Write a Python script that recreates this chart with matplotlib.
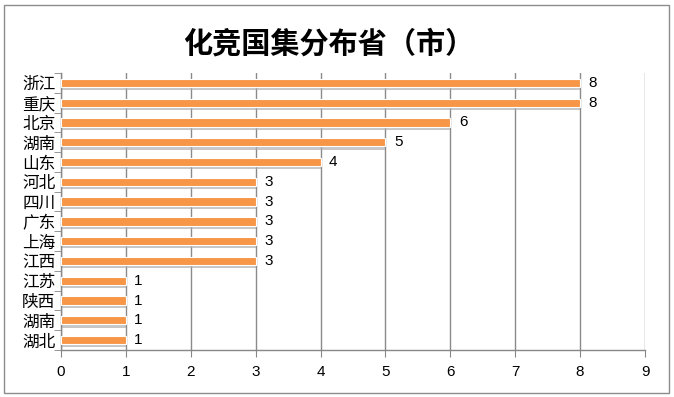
import matplotlib.pyplot as plt
from matplotlib.patches import Rectangle

plt.rcParams['font.family'] = ['Noto Sans CJK SC', 'DejaVu Sans']

# data, top to bottom
provinces = ['浙江', '重庆', '北京', '湖南', '山东', '河北', '四川', '广东',
             '上海', '江西', '江苏', '陕西', '湖南', '湖北']
counts = [8, 8, 6, 5, 4, 3, 3, 3, 3, 3, 1, 1, 1, 1]
title = '化竞国集分布省（市）'

W, H = 674, 397
fig = plt.figure(figsize=(W / 100, H / 100), dpi=100)
fig.patch.set_facecolor('white')

# outer frame of the chart
fig.patches.append(Rectangle((4 / W, 4 / H), 665 / W, 388 / H, transform=fig.transFigure,
                             fill=False, edgecolor='#8c8c8c', linewidth=1.0))

left, right, top, bottom = 61, 645, 73, 350
ax = fig.add_axes([left / W, 1 - bottom / H, (right - left) / W, (bottom - top) / H])

n = len(provinces)
ypos = list(range(n))[::-1]

# shadows, then bars
ax.barh([y - 0.16 for y in ypos], counts, height=0.42, color='#b0b0b0', alpha=0.7, zorder=2)
ax.barh(ypos, counts, height=0.42, color='#F79646', edgecolor='white', linewidth=0.8, zorder=3)

for y, v in zip(ypos, counts):
    ax.text(v + 0.13, y, str(v), va='center', ha='left', fontsize=11,
            family=['Liberation Sans', 'DejaVu Sans'], zorder=4)

ax.set_xlim(0, 9)
ax.set_ylim(-0.5, n - 0.5)
ax.set_xticks(range(10))
ax.set_xticklabels([str(i) for i in range(10)], fontsize=11, family=['Liberation Sans', 'DejaVu Sans'])
ax.set_yticks(ypos)
ax.set_yticklabels(provinces, fontsize=12)
ax.tick_params(axis='y', length=0, pad=4)
ax.tick_params(axis='x', length=5, color='#878787', pad=6, direction='out')

# minor ticks between categories on y
ax.set_yticks([i + 0.5 for i in range(-1, n)], minor=True)
ax.tick_params(axis='y', which='minor', length=5, color='#878787', direction='out')

ax.grid(axis='x', color='#8a8a8a', linewidth=1.0, zorder=0)
ax.set_axisbelow(True)
for s in ['top', 'right']:
    ax.spines[s].set_visible(False)
for s in ['left', 'bottom']:
    ax.spines[s].set_color('#878787')
    ax.spines[s].set_linewidth(1.0)

fig.text(329 / W, 1 - 44 / H, title, ha='center', va='center', fontsize=21, fontweight='bold')

fig.savefig('out.png', dpi=100)
